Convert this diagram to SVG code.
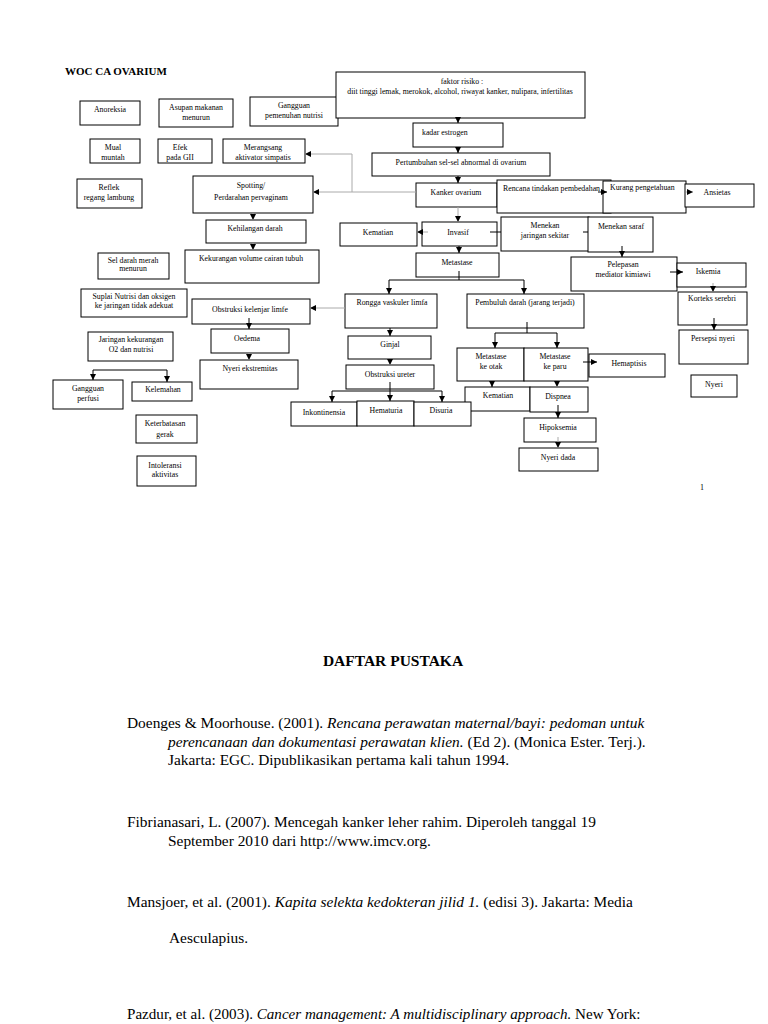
<svg xmlns="http://www.w3.org/2000/svg" width="768" height="1024" viewBox="0 0 768 1024">
<style>
.box{fill:#fff;stroke:#000;stroke-width:1}
.t{font-family:"Liberation Serif","Times New Roman",serif;font-size:7.8px;fill:#000;text-anchor:middle}
.ts{font-family:"Liberation Serif","Times New Roman",serif;font-size:7.8px;fill:#000}
.ln{fill:none;stroke:#000;stroke-width:1}
.lg{fill:none;stroke:#aaa;stroke-width:1}
.ar{marker-end:url(#ah)}
.ref{font-family:"Liberation Serif","Times New Roman",serif;font-size:15.4px;fill:#000}
.it{font-style:italic}
</style>
<defs>
<marker id="ah" markerUnits="userSpaceOnUse" markerWidth="6" markerHeight="6" refX="6" refY="3" orient="auto">
<path d="M0,0 L6,3 L0,6 z" fill="#000"/>
</marker>
</defs>
<rect width="768" height="1024" fill="#fff"/>
<text x="65" y="75" style="font-family:'Liberation Serif',serif;font-size:11px;font-weight:bold">WOC CA OVARIUM</text>

<g id="nodes">
<g id="anoreksia"><rect class="box" x="80" y="101" width="60" height="24"/><text class="t" x="110" y="111.5">Anoreksia</text></g>
<g id="asupan"><rect class="box" x="159" y="99" width="74" height="28"/><text class="t" x="196" y="109.5">Asupan makanan</text><text class="t" x="196" y="119.5">menurun</text></g>
<g id="gangguan-nutrisi"><rect class="box" x="250" y="97" width="88" height="29"/><text class="t" x="294" y="107.5">Gangguan</text><text class="t" x="294" y="117.5">pemenuhan nutrisi</text></g>
<g id="faktor"><rect class="box" x="336" y="72" width="249" height="46"/><text class="t" x="462" y="83.5">faktor risiko :</text><text class="t" x="460" y="93.5">diit tinggi lemak, merokok, alcohol, riwayat kanker, nulipara, infertilitas</text></g>
<g id="mual"><rect class="box" x="90" y="139" width="50" height="24"/><text class="t" x="113" y="149.5">Mual</text><text class="t" x="113" y="159.5">muntah</text></g>
<g id="efek"><rect class="box" x="158" y="139" width="54" height="24"/><text class="t" x="180" y="149.5">Efek</text><text class="t" x="180" y="159.5">pada GII</text></g>
<g id="merangsang"><rect class="box" x="223" y="139" width="82" height="24"/><text class="t" x="263" y="149.5">Merangsang</text><text class="t" x="263" y="159.5">aktivator simpatis</text></g>
<g id="kadar"><rect class="box" x="413" y="123" width="90" height="24"/><text class="ts" x="422" y="135">kadar estrogen</text></g>
<g id="pertumbuhan"><rect class="box" x="372" y="153" width="178" height="23"/><text class="t" x="461" y="164.5">Pertumbuhan sel-sel abnormal di ovarium</text></g>
<g id="reflek"><rect class="box" x="77" y="179" width="65" height="29"/><text class="t" x="109" y="189.5">Reflek</text><text class="t" x="109" y="199.5">regang lambung</text></g>
<g id="spotting"><rect class="box" x="193" y="176" width="120" height="37"/><text class="t" x="251" y="187.5">Spotting/</text><text class="t" x="251" y="199.5">Perdarahan pervaginam</text></g>
<g id="kanker"><rect class="box" x="416" y="183" width="81" height="24"/><text class="t" x="456" y="194.5">Kanker ovarium</text></g>
<g id="rencana"><rect class="box" x="497" y="180" width="114" height="33"/><text class="ts" x="503" y="190.5">Rencana tindakan pembedahan</text></g>
<g id="kurang"><rect class="box" x="603" y="181" width="83" height="32"/><text class="ts" x="610" y="189.5">Kurang pengetahuan</text></g>
<g id="ansietas"><rect class="box" x="685" y="184" width="69" height="23"/><text class="t" x="717" y="195">Ansietas</text></g>
<g id="kehilangan"><rect class="box" x="206" y="220" width="100" height="23"/><text class="t" x="255" y="230.5">Kehilangan darah</text></g>
<g id="kematian1"><rect class="box" x="340" y="223" width="77" height="23"/><text class="t" x="378" y="234.5">Kematian</text></g>
<g id="invasif"><rect class="box" x="422" y="222" width="75" height="24"/><text class="t" x="458" y="234.5">Invasif</text></g>
<g id="menekan-jaringan"><rect class="box" x="501" y="217" width="88" height="34"/><text class="t" x="545" y="227.5">Menekan</text><text class="t" x="545" y="237.5">jaringan sekitar</text></g>
<g id="menekan-saraf"><rect class="box" x="588" y="217" width="65" height="35"/><text class="t" x="621" y="228.5">Menekan saraf</text></g>
<g id="sel-darah"><rect class="box" x="98" y="253" width="71" height="26"/><text class="t" x="133" y="262.5">Sel darah merah</text><text class="t" x="133" y="271">menurun</text></g>
<g id="kekurangan"><rect class="box" x="185" y="250" width="134" height="33"/><text class="t" x="251" y="260.5">Kekurangan volume cairan tubuh</text></g>
<g id="metastase"><rect class="box" x="416" y="253" width="83" height="24"/><text class="t" x="457" y="264.5">Metastase</text></g>
<g id="pelepasan"><rect class="box" x="571" y="257" width="106" height="34"/><text class="t" x="623" y="266.5">Pelepasan</text><text class="t" x="623" y="276.5">mediator kimiawi</text></g>
<g id="iskemia"><rect class="box" x="677" y="263" width="69" height="24"/><text class="t" x="708" y="274">Iskemia</text></g>
<g id="suplai"><rect class="box" x="81" y="289" width="106" height="28"/><text class="t" x="134" y="299">Suplai Nutrisi dan oksigen</text><text class="t" x="134" y="308">ke jaringan tidak adekuat</text></g>
<g id="obstruksi-limfe"><rect class="box" x="192" y="299" width="118" height="25"/><text class="t" x="250" y="311.5">Obstruksi kelenjar limfe</text></g>
<g id="rongga"><rect class="box" x="345" y="294" width="92" height="34"/><text class="t" x="392" y="304.5">Rongga vaskuler limfa</text></g>
<g id="pembuluh"><rect class="box" x="467" y="294" width="117" height="34"/><text class="t" x="525" y="304.5">Pembuluh darah (jarang terjadi)</text></g>
<g id="korteks"><rect class="box" x="678" y="292" width="69" height="33"/><text class="t" x="712" y="300.5">Korteks serebri</text></g>
<g id="jaringan-kurang"><rect class="box" x="88" y="332" width="85" height="29"/><text class="t" x="131" y="342">Jaringan kekurangan</text><text class="t" x="131" y="351.5">O2 dan nutrisi</text></g>
<g id="oedema"><rect class="box" x="211" y="329" width="78" height="24"/><text class="t" x="247" y="340.5">Oedema</text></g>
<g id="ginjal"><rect class="box" x="348" y="336" width="83" height="23"/><text class="t" x="390" y="346.5">Ginjal</text></g>
<g id="persepsi"><rect class="box" x="679" y="330" width="69" height="34"/><text class="t" x="713" y="340.5">Persepsi nyeri</text></g>
<g id="meta-otak"><rect class="box" x="457" y="348" width="67" height="33"/><text class="t" x="491" y="358.5">Metastase</text><text class="t" x="491" y="368.5">ke otak</text></g>
<g id="meta-paru"><rect class="box" x="524" y="348" width="64" height="33"/><text class="t" x="555" y="358.5">Metastase</text><text class="t" x="555" y="368.5">ke paru</text></g>
<g id="hemaptisis"><rect class="box" x="589" y="354" width="76" height="23"/><text class="t" x="629" y="365.5">Hemaptisis</text></g>
<g id="nyeri-ekstremitas"><rect class="box" x="200" y="360" width="98" height="29"/><text class="t" x="250" y="371">Nyeri ekstremitas</text></g>
<g id="obstruksi-ureter"><rect class="box" x="346" y="365" width="88" height="24"/><text class="t" x="390" y="376.5">Obstruksi ureter</text></g>
<g id="nyeri"><rect class="box" x="691" y="375" width="46" height="22"/><text class="t" x="714" y="387">Nyeri</text></g>
<g id="gangguan-perfusi"><rect class="box" x="53" y="380" width="70" height="29"/><text class="t" x="88" y="390.5">Gangguan</text><text class="t" x="88" y="400.5">perfusi</text></g>
<g id="kelemahan"><rect class="box" x="132" y="382" width="60" height="19"/><text class="t" x="163" y="391.5">Kelemahan</text></g>
<g id="kematian2"><rect class="box" x="465" y="387" width="65" height="24"/><text class="t" x="498" y="397.5">Kematian</text></g>
<g id="dispnea"><rect class="box" x="530" y="387" width="58" height="25"/><text class="t" x="558" y="398.5">Dispnea</text></g>
<g id="inkontinensia"><rect class="box" x="291" y="402" width="66" height="24"/><text class="t" x="324" y="414.5">Inkontinensia</text></g>
<g id="hematuria"><rect class="box" x="357" y="401" width="57" height="25"/><text class="t" x="386" y="412.5">Hematuria</text></g>
<g id="disuria"><rect class="box" x="414" y="402" width="57" height="24"/><text class="t" x="441" y="412.5">Disuria</text></g>
<g id="keterbatasan"><rect class="box" x="136" y="415" width="61" height="28"/><text class="t" x="165" y="425.5">Keterbatasan</text><text class="t" x="165" y="436.5">gerak</text></g>
<g id="hipoksemia"><rect class="box" x="524" y="418" width="72" height="24"/><text class="t" x="558" y="429.5">Hipoksemia</text></g>
<g id="nyeri-dada"><rect class="box" x="519" y="448" width="79" height="23"/><text class="t" x="558" y="459.5">Nyeri dada</text></g>
<g id="intoleransi"><rect class="box" x="137" y="456" width="59" height="30"/><text class="t" x="165" y="467.5">Intoleransi</text><text class="t" x="165" y="476.5">aktivitas</text></g>
</g>

<g id="connectors">
<line class="ln ar" x1="458" y1="118" x2="458" y2="123"/>
<line class="ln ar" x1="458" y1="147" x2="458" y2="153"/>
<line class="ln ar" x1="458" y1="176" x2="458" y2="183"/>
<line class="lg ar" x1="416" y1="192" x2="313" y2="192"/>
<polyline class="lg ar" points="352,192 352,154 305,154"/>
<line class="lg ar" x1="458" y1="207" x2="458" y2="222"/>
<line class="lg ar" x1="428" y1="232" x2="417" y2="232"/>
<line class="ln" x1="490" y1="232" x2="501" y2="232"/>
<line class="ln" x1="583" y1="232" x2="588" y2="232"/>
<line class="ln ar" x1="622" y1="246" x2="622" y2="257"/>
<line class="ln ar" x1="670" y1="272" x2="683" y2="272"/>
<line class="lg ar" x1="713" y1="283" x2="713" y2="292"/>
<line class="ln ar" x1="714" y1="318" x2="714" y2="330"/>
<line class="ln ar" x1="459" y1="246" x2="459" y2="253"/>
<polyline class="ln" points="459,271 459,280"/>
<polyline class="ln ar" points="459,280 389,280 389,294"/>
<polyline class="ln ar" points="459,280 524,280 524,294"/>
<line class="lg ar" x1="345" y1="308" x2="310" y2="308"/>
<line class="ln ar" x1="390" y1="328" x2="390" y2="336"/>
<line class="lg ar" x1="390" y1="359" x2="390" y2="365"/>
<line class="ln" x1="390" y1="382" x2="390" y2="391"/>
<polyline class="ln ar" points="390,391 332,391 332,402"/>
<line class="ln ar" x1="390" y1="391" x2="390" y2="401"/>
<polyline class="ln ar" points="390,391 442,391 442,402"/>
<line class="ln" x1="527" y1="322" x2="527" y2="333"/>
<polyline class="ln ar" points="527,333 495,333 495,348"/>
<polyline class="ln ar" points="527,333 557,333 557,348"/>
<line class="ln ar" x1="492" y1="381" x2="492" y2="387"/>
<line class="lg ar" x1="557" y1="381" x2="557" y2="387"/>
<line class="ln ar" x1="583" y1="362" x2="597" y2="362"/>
<line class="ln ar" x1="558" y1="405" x2="558" y2="418"/>
<line class="lg ar" x1="558" y1="437" x2="558" y2="448"/>
<line class="ln ar" x1="598" y1="192" x2="607" y2="192"/>
<line class="lg ar" x1="686" y1="192" x2="693" y2="192"/>
<line class="lg ar" x1="253" y1="213" x2="253" y2="220"/>
<line class="lg ar" x1="253" y1="243" x2="253" y2="250"/>
<line class="ln ar" x1="249" y1="318" x2="249" y2="329"/>
<line class="lg ar" x1="249" y1="353" x2="249" y2="360"/>
<polyline class="ln ar" points="130,370 93,370 93,380"/>
<polyline class="ln ar" points="130,370 167,370 167,382"/>
</g>

<text x="700" y="490" style="font-family:'Liberation Serif',serif;font-size:8px">1</text>

<g id="references">
<text x="393" y="666" text-anchor="middle" style="font-family:'Liberation Serif',serif;font-size:15.5px;font-weight:bold">DAFTAR PUSTAKA</text>
<text class="ref" x="127" y="728">Doenges &amp; Moorhouse. (2001). <tspan class="it">Rencana perawatan maternal/bayi: pedoman untuk</tspan></text>
<text class="ref" x="168" y="747"><tspan class="it">perencanaan dan dokumentasi perawatan klien.</tspan> (Ed 2). (Monica Ester. Terj.).</text>
<text class="ref" x="168" y="765">Jakarta: EGC. Dipublikasikan pertama kali tahun 1994.</text>
<text class="ref" x="127" y="827">Fibrianasari, L. (2007). Mencegah kanker leher rahim. Diperoleh tanggal 19</text>
<text class="ref" x="168" y="846">September 2010 dari http://www.imcv.org.</text>
<text class="ref" x="127" y="907">Mansjoer, et al. (2001). <tspan class="it">Kapita selekta kedokteran jilid 1.</tspan> (edisi 3). Jakarta: Media</text>
<text class="ref" x="169" y="943">Aesculapius.</text>
<text class="ref" x="127" y="1019" style="font-size:15.1px">Pazdur, et al. (2003). <tspan class="it">Cancer management: A multidisciplinary approach.</tspan> New York:</text>
</g>
</svg>
